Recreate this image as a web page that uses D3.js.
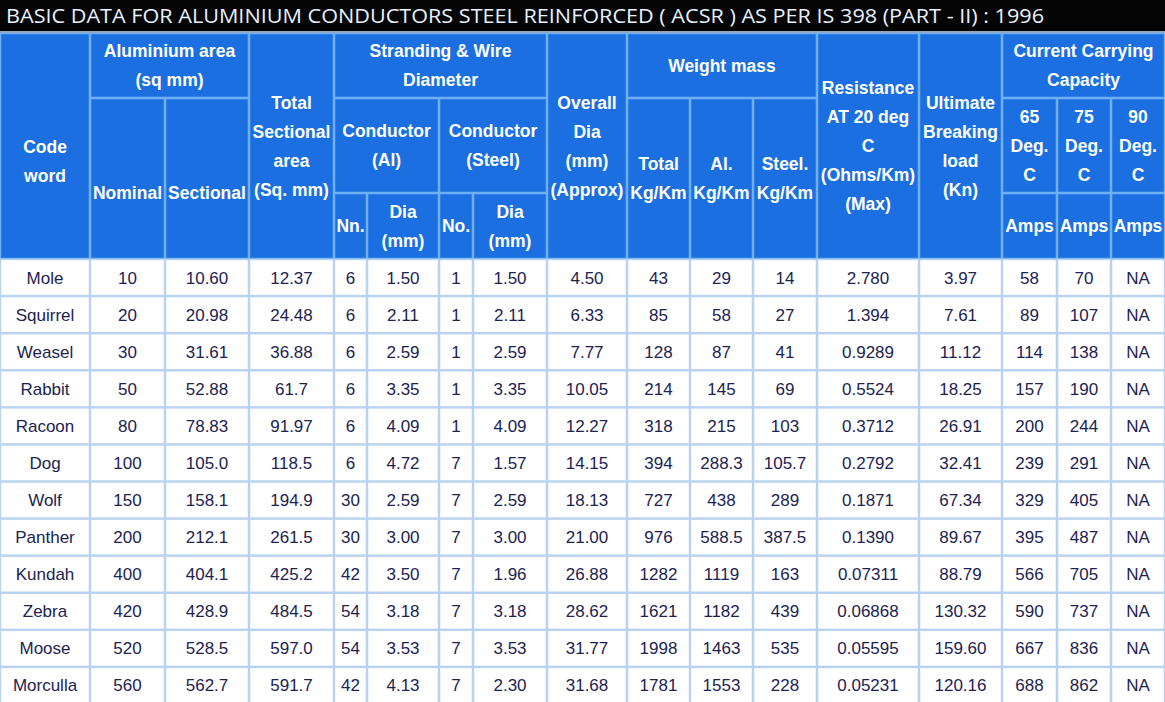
<!DOCTYPE html>
<html><head><meta charset="utf-8">
<script src="https://cdn.jsdelivr.net/npm/d3@7"></script>
<style>body{margin:0;background:#fff}</style>
</head><body>
<svg id="tbl" width="1165" height="702"></svg>
<script>
// table data
const title = "BASIC DATA FOR ALUMINIUM CONDUCTORS STEEL REINFORCED ( ACSR ) AS PER IS 398 (PART - II) : 1996";
const codeWords = ["Mole","Squirrel","Weasel","Rabbit","Racoon","Dog","Wolf","Panther","Kundah","Zebra","Moose","Morculla"];
const nominal = ["10","20","30","50","80","100","150","200","400","420","520","560"];
const sectional = ["10.60","20.98","31.61","52.88","78.83","105.0","158.1","212.1","404.1","428.9","528.5","562.7"];
const totalArea = ["12.37","24.48","36.88","61.7","91.97","118.5","194.9","261.5","425.2","484.5","597.0","591.7"];
const alNo = ["6","6","6","6","6","6","30","30","42","54","54","42"];
const alDia = ["1.50","2.11","2.59","3.35","4.09","4.72","2.59","3.00","3.50","3.18","3.53","4.13"];
const stNo = ["1","1","1","1","1","7","7","7","7","7","7","7"];
const stDia = ["1.50","2.11","2.59","3.35","4.09","1.57","2.59","3.00","1.96","3.18","3.53","2.30"];
const overallDia = ["4.50","6.33","7.77","10.05","12.27","14.15","18.13","21.00","26.88","28.62","31.77","31.68"];
const wTotal = ["43","85","128","214","318","394","727","976","1282","1621","1998","1781"];
const wAl = ["29","58","87","145","215","288.3","438","588.5","1119","1182","1463","1553"];
const wSteel = ["14","27","41","69","103","105.7","289","387.5","163","439","535","228"];
const resistance = ["2.780","1.394","0.9289","0.5524","0.3712","0.2792","0.1871","0.1390","0.07311","0.06868","0.05595","0.05231"];
const breaking = ["3.97","7.61","11.12","18.25","26.91","32.41","67.34","89.67","88.79","130.32","159.60","120.16"];
const amps65 = ["58","89","114","157","200","239","329","395","566","590","667","688"];
const amps75 = ["70","107","138","190","244","291","405","487","705","737","836","862"];
const amps90 = ["NA","NA","NA","NA","NA","NA","NA","NA","NA","NA","NA","NA"];

// header cells: lines, col start, col end, row start, row end, text shift
const headerCells = [
  [["Code","word"],0,1,0,3,15],
  [["Aluminium area","(sq mm)"],1,3,0,1,0],
  [["","Nominal"],1,2,1,3,0],
  [["","Sectional"],2,3,1,3,0],
  [["Total","Sectional","area","(Sq. mm)"],3,4,0,3,0],
  [["Stranding & Wire","Diameter"],4,8,0,1,0],
  [["Conductor","(Al)"],4,6,1,2,0],
  [["Conductor","(Steel)"],6,8,1,2,0],
  [["Nn."],4,5,2,3,0],
  [["Dia","(mm)"],5,6,2,3,0],
  [["No."],6,7,2,3,0],
  [["Dia","(mm)"],7,8,2,3,0],
  [["Overall","Dia","(mm)","(Approx)"],8,9,0,3,0],
  [["Weight mass"],9,12,0,1,0],
  [["Total","Kg/Km"],9,10,1,3,0],
  [["Al.","Kg/Km"],10,11,1,3,0],
  [["Steel.","Kg/Km"],11,12,1,3,0],
  [["Resistance","AT 20 deg","C","(Ohms/Km)","(Max)"],12,13,0,3,0],
  [["Ultimate","Breaking","load","(Kn)"],13,14,0,3,0],
  [["Current Carrying","Capacity"],14,17,0,1,0],
  [["65","Deg.","C"],14,15,1,2,0],
  [["75","Deg.","C"],15,16,1,2,0],
  [["90","Deg.","C"],16,17,1,2,0],
  [["Amps"],14,15,2,3,0],
  [["Amps"],15,16,2,3,0],
  [["Amps"],16,17,2,3,0]
];

const columns = [codeWords,nominal,sectional,totalArea,alNo,alDia,stNo,stDia,overallDia,
  wTotal,wAl,wSteel,resistance,breaking,amps65,amps75,amps90];

const svg = d3.select("#tbl");
const colEdges = [0,90,165,249,334,367,439,473,547,627,690,753,817,919,1002,1057,1111,1165];
const headRows = [33,98,193,259];
const rowY = d3.scaleLinear().domain([0,12]).range([259,704]);
const blue = "#1b6fe0", hdrLine = "#6fb0f5", bodyLine = "#b9d3ef";

// title bar
svg.append("rect").attr("width",1165).attr("height",31).attr("fill","#050505");
svg.append("rect").attr("y",31).attr("width",1165).attr("height",2).attr("fill","#9aa4b0");
svg.append("text").attr("x",6).attr("y",23).text(title)
  .attr("fill","#e8f1ff").attr("font-family","Open Sans").attr("font-size",19.5)
  .attr("textLength",1038).attr("lengthAdjust","spacingAndGlyphs");

// header
svg.append("rect").attr("y",33).attr("width",1165).attr("height",226).attr("fill",blue);
const lh = 29;
headerCells.forEach(([lines,c0,c1,r0,r1,dy]) => {
  const x0 = colEdges[c0], x1 = colEdges[c1], y0 = headRows[r0], y1 = headRows[r1];
  svg.append("rect").attr("x",x0+0.5).attr("y",y0+0.5).attr("width",x1-x0-1).attr("height",y1-y0-1)
    .attr("fill","none").attr("stroke",hdrLine).attr("stroke-width",1.5);
  const cy = (y0+y1)/2 - (lines.length-1)*lh/2 + dy;
  const t = svg.append("text").attr("x",(x0+x1)/2).attr("text-anchor","middle")
    .attr("fill","#fff").attr("font-family","Liberation Sans").attr("font-weight","bold").attr("font-size",17.5);
  lines.forEach((l,i) => t.append("tspan").attr("x",(x0+x1)/2).attr("y",cy+i*lh+6).text(l));
});

// body
codeWords.forEach((w,r) => {
  const y0 = rowY(r), y1 = rowY(r+1);
  columns.forEach((col,c) => {
    const x0 = colEdges[c], x1 = colEdges[c+1];
    svg.append("rect").attr("x",x0+0.5).attr("y",y0+0.5).attr("width",x1-x0-1).attr("height",y1-y0-1)
      .attr("fill","#fff").attr("stroke",bodyLine).attr("stroke-width",1.5);
    svg.append("text").attr("x",(x0+x1)/2).attr("y",(y0+y1)/2+6).attr("text-anchor","middle")
      .attr("fill","#1c2350").attr("font-family","Liberation Sans").attr("font-size",17).text(col[r]);
  });
});
</script>
</body></html>
